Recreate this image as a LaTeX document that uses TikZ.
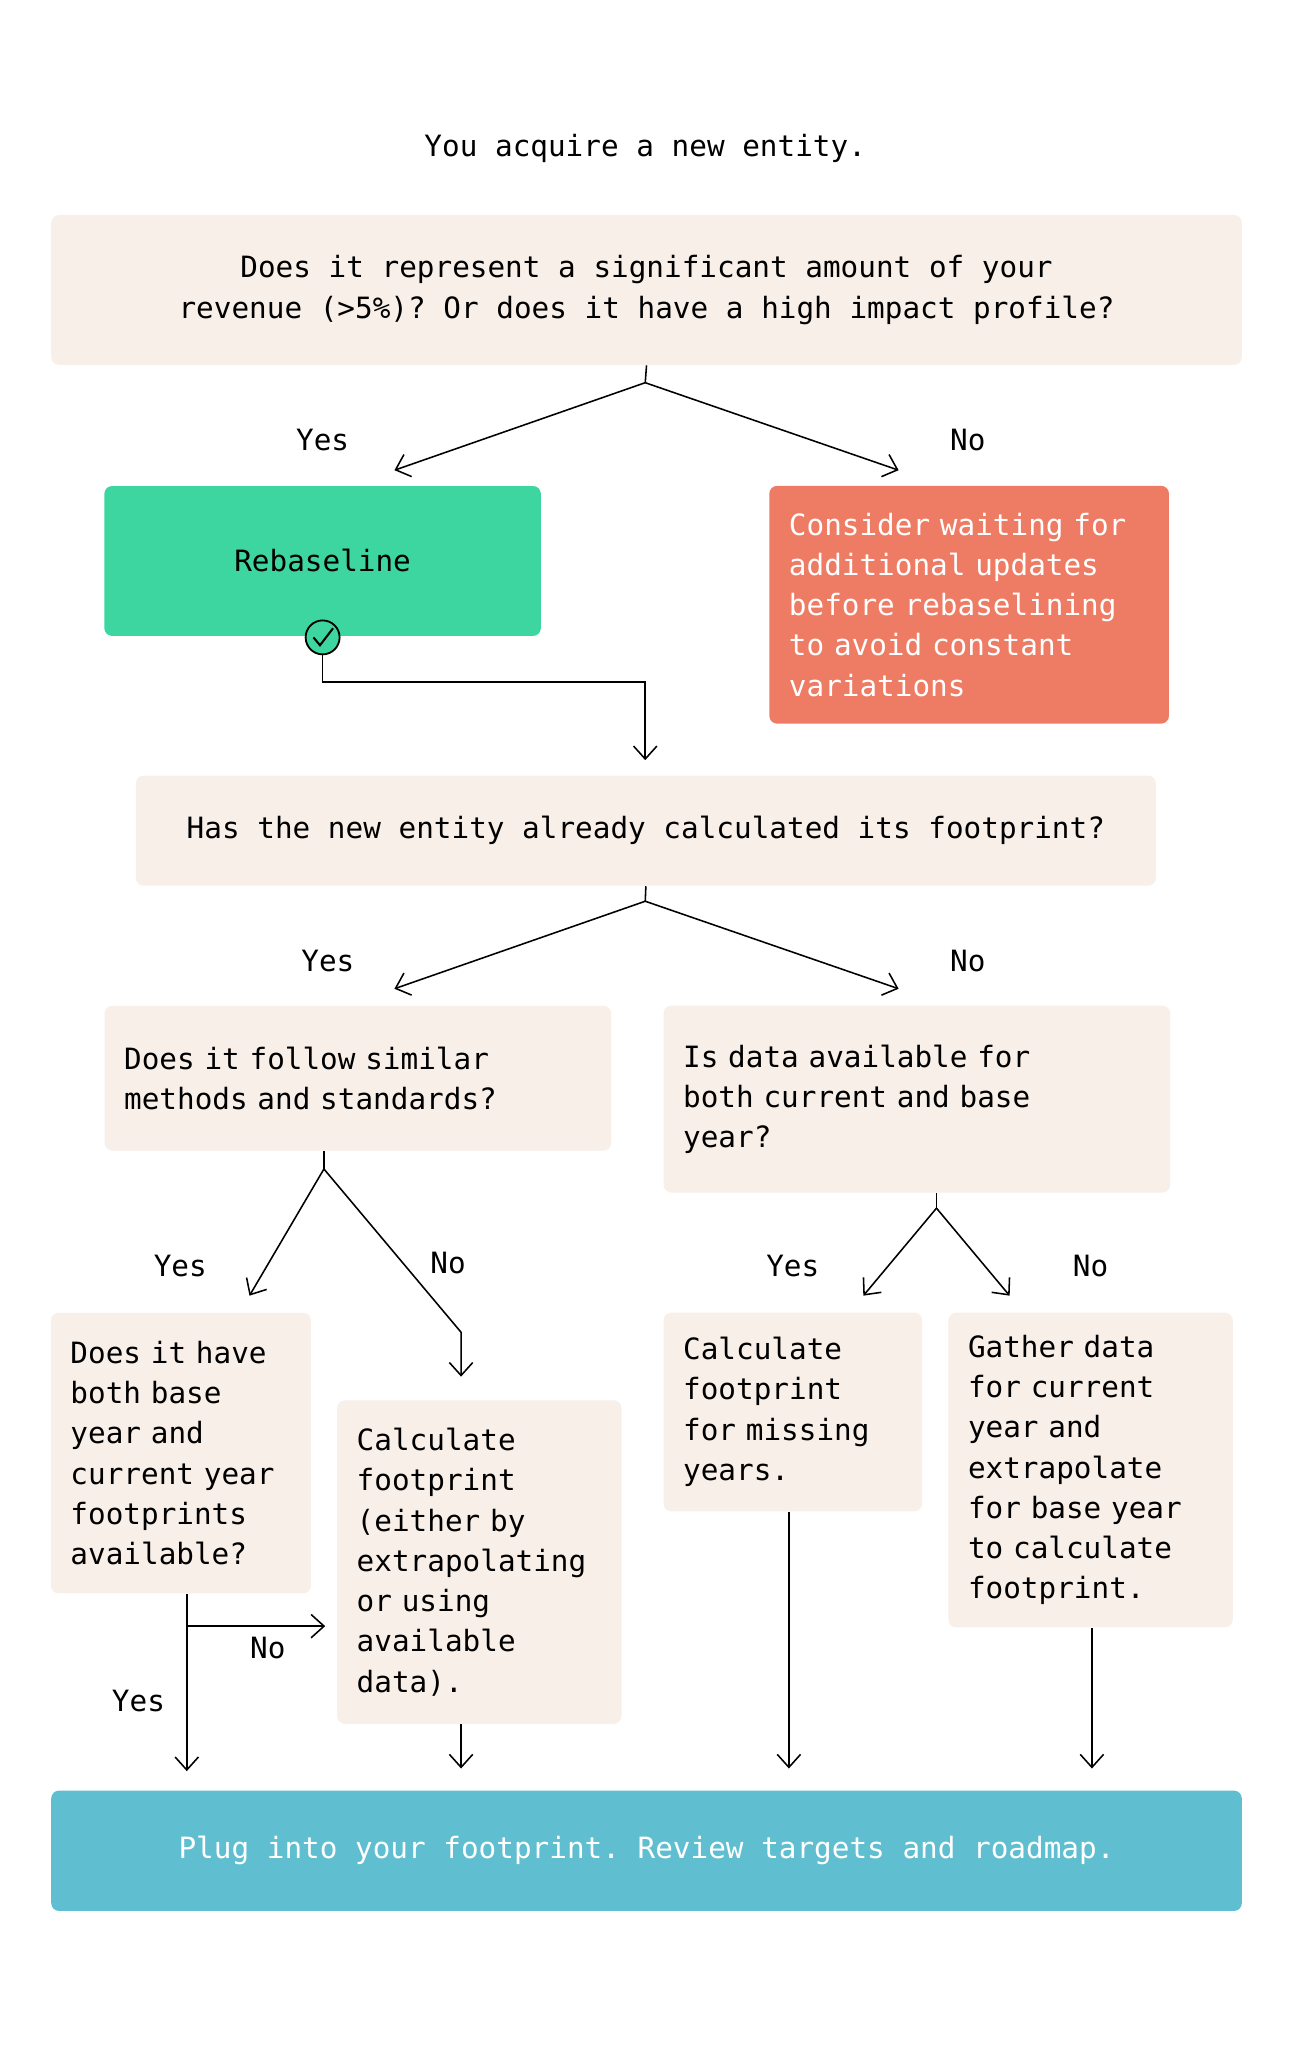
\documentclass[tikz,border=0pt]{standalone}
\usepackage{fontspec}
\setmonofont{DejaVu Sans Mono}
\usetikzlibrary{arrows.meta}
\definecolor{beige}{HTML}{F8EFE9}
\definecolor{grn}{HTML}{3DD6A0}
\definecolor{redc}{HTML}{EE7B63}
\definecolor{bluec}{HTML}{5FBFD0}
\begin{document}
\begin{tikzpicture}[x=0.01768cm,y=-0.01768cm,
  every node/.style={font=\ttfamily\fontsize{11.3}{15.5}\selectfont},
  box/.style={fill=beige,rounded corners=3pt,inner xsep=0.265cm,align=left},
  cbox/.style={fill=beige,rounded corners=3pt,align=center},
  arr/.style={-{Straight Barb[length=5pt,width=9pt]},line width=0.6pt},
  ln/.style={line width=0.6pt},
  lbl/.style={inner sep=1pt}]
\fill[white] (0,0) rectangle (990,1568);
\node (t) at (494,114) {You acquire a new entity.};
\node[cbox,minimum width=16.12cm,minimum height=2.03cm] (b1) at (495,222) {Does it represent a significant amount of your\\revenue (>5\%)? Or does it have a high impact profile?};
\coordinate (j1) at (494,293);
\coordinate (a1) at (302,360);
\coordinate (a2) at (688,360);
\draw[ln] (b1.south) -- (j1);
\draw[arr] (j1) -- (a1);
\draw[arr] (j1) -- (a2);
\node[lbl] (y1) at (247,337) {Yes};
\node[lbl] (n1) at (741,337) {No};
\node[fill=grn,rounded corners=3pt,minimum width=5.91cm,minimum height=2.03cm] (rb) at (247,429.5) {};
\node (rbt) at (247,429) {Rebaseline};
\node[circle,draw,fill=grn,line width=0.7pt,minimum size=0.46cm,inner sep=0pt] (ck) at (247,488) {};
\draw[line width=0.8pt] (240,488) -- (245,494) -- (255,481);
\node[fill=redc,text=white,rounded corners=3pt,inner xsep=0.265cm,text width=4.88cm,minimum height=3.22cm,align=left] (red) at (742,463) {Consider waiting for\\additional updates\\before rebaselining\\to avoid constant\\variations};
\node[cbox,minimum width=13.81cm,minimum height=1.49cm] (b2) at (494.5,636) {Has the new entity already calculated its footprint?};
\draw[arr] (ck.south) |- (494,522) -- (494,582);
\coordinate (j2) at (494,690);
\coordinate (a3) at (302,757);
\coordinate (a4) at (688,757);
\draw[ln] (b2.south) -- (j2);
\draw[arr] (j2) -- (a3);
\draw[arr] (j2) -- (a4);
\node[lbl] (y2) at (251,736) {Yes};
\node[lbl] (n2) at (741,736) {No};
\node[box,text width=6.33cm,minimum height=1.96cm] (b3) at (274,825.5) {Does it follow similar\\methods and standards?};
\node[box,text width=6.33cm,minimum height=2.53cm] (b4) at (702,841.5) {Is data available for\\both current and base\\year?};
\coordinate (j3) at (248,895);
\coordinate (a5) at (191,992);
\coordinate (k3) at (353,1020);
\draw[ln] (b3.south -| j3) -- (j3);
\draw[arr] (j3) -- (a5);
\draw[arr] (j3) -- (k3) -- (353,1054);
\node[lbl] (y3) at (138,969) {Yes};
\node[lbl] (n3) at (343,967) {No};
\coordinate (j4) at (717,925);
\coordinate (a6) at (661,992);
\coordinate (a7) at (773,992);
\draw[ln] (b4.south -| j4) -- (j4);
\draw[arr] (j4) -- (a6);
\draw[arr] (j4) -- (a7);
\node[lbl] (y4) at (607,969) {Yes};
\node[lbl] (n4) at (835,969) {No};
\node[box,text width=2.99cm,minimum height=3.80cm] (b5) at (138.5,1112.5) {Does it have\\both base\\year and\\current year\\footprints\\available?};
\node[box,text width=3.32cm,minimum height=4.38cm] (b6) at (367,1196) {Calculate\\footprint\\(either by\\extrapolating\\or using\\available\\data).};
\node[box,text width=2.97cm,minimum height=2.69cm] (b7) at (607,1081) {Calculate\\footprint\\for missing\\years.};
\node[box,text width=3.32cm,minimum height=4.26cm] (b8) at (835,1125.5) {Gather data\\for current\\year and\\extrapolate\\for base year\\to calculate\\footprint.};
\node[fill=bluec,text=white,rounded corners=3pt,minimum width=16.12cm,minimum height=1.63cm] (fin) at (495,1417) {Plug into your footprint. Review targets and roadmap.};
\coordinate (j5) at (143,1245);
\draw[arr] (b5.south -| j5) -- (143,1356);
\draw[arr] (j5) -- (249,1245);
\node[lbl] (n5) at (205,1262) {No};
\node[lbl] (y5) at (106,1302) {Yes};
\draw[arr] (b6.south -| 353,0) -- (353,1354);
\draw[arr] (b7.south -| 604,0) -- (604,1354);
\draw[arr] (b8.south -| 836,0) -- (836,1354);
\end{tikzpicture}
\end{document}
